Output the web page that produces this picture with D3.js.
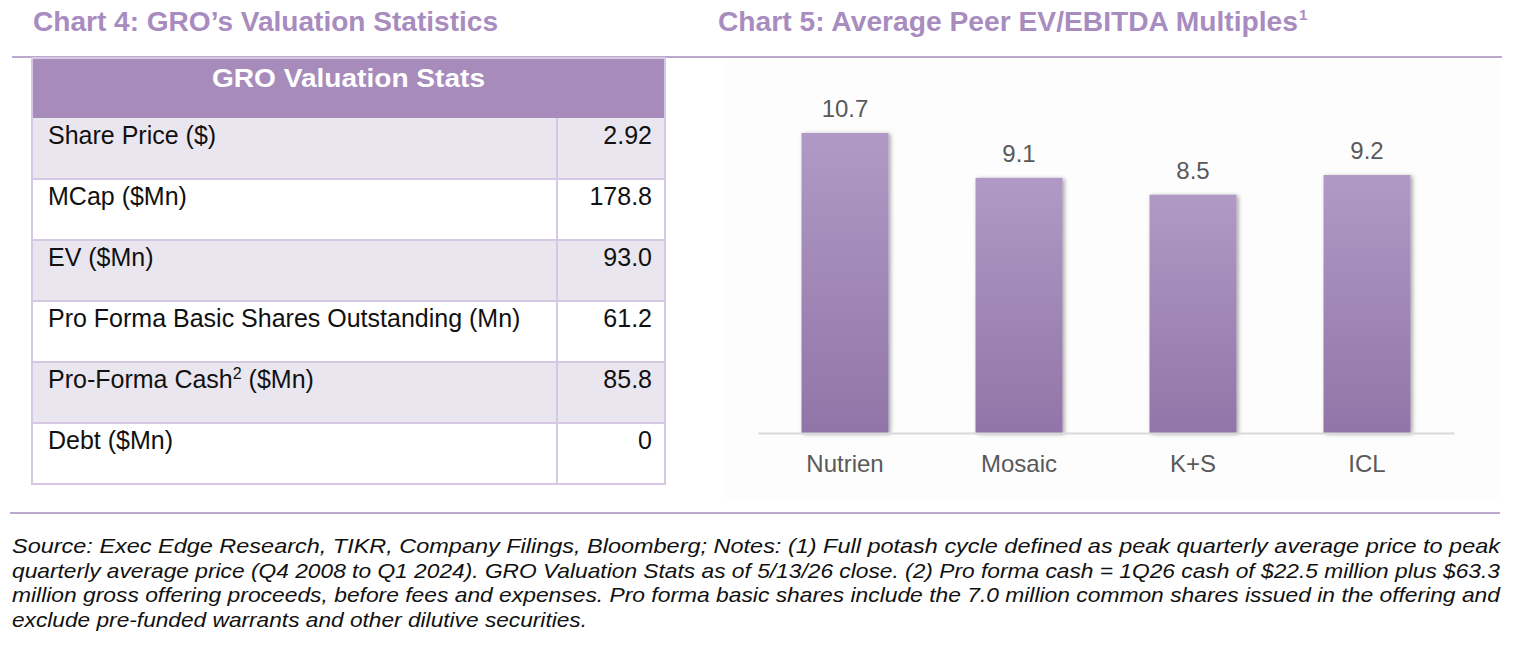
<!DOCTYPE html>
<html>
<head>
<meta charset="utf-8">
<script src="https://cdn.jsdelivr.net/npm/d3@7"></script>
<style>
  html, body { margin: 0; padding: 0; background: #fff; }
  svg { display: block; font-family: "Liberation Sans", Arial, Helvetica, sans-serif; }
</style>
</head>
<body>
<svg id="page" width="1536" height="650"></svg>
<script>
// ---- data ----
const statLabels = ['Share Price ($)', 'MCap ($Mn)', 'EV ($Mn)',
  'Pro Forma Basic Shares Outstanding (Mn)', 'Pro-Forma Cash^2 ($Mn)', 'Debt ($Mn)'];
const statValues = ['2.92', '178.8', '93.0', '61.2', '85.8', '0'];
const peers = ['Nutrien', 'Mosaic', 'K+S', 'ICL'];
const evEbitda = [10.7, 9.1, 8.5, 9.2];
const footLines = [
  'Source: Exec Edge Research, TIKR, Company Filings, Bloomberg; Notes: (1) Full potash cycle defined as peak quarterly average price to peak',
  'quarterly average price (Q4 2008 to Q1 2024). GRO Valuation Stats as of 5/13/26 close. (2) Pro forma cash = 1Q26 cash of $22.5 million plus $63.3',
  'million gross offering proceeds, before fees and expenses. Pro forma basic shares include the 7.0 million common shares issued in the offering and',
  'exclude pre-funded warrants and other dilutive securities.'
];

const purple = '#a98cbf';
const svg = d3.select('#page');

// ---- defs: bar gradient + shadow ----
const defs = svg.append('defs');
const grad = defs.append('linearGradient')
  .attr('id', 'barGrad').attr('x1', 0).attr('y1', 0).attr('x2', 0).attr('y2', 1);
grad.append('stop').attr('offset', '0%').attr('stop-color', '#b09ac5');
grad.append('stop').attr('offset', '100%').attr('stop-color', '#9175a8');
const shadow = defs.append('filter').attr('id', 'barShadow')
  .attr('x', '-20%').attr('y', '-10%').attr('width', '150%').attr('height', '130%');
shadow.append('feDropShadow')
  .attr('dx', 2).attr('dy', 1).attr('stdDeviation', 2)
  .attr('flood-color', '#000').attr('flood-opacity', 0.35);

// ---- titles + rules ----
svg.append('text')
  .attr('x', 33).attr('y', 31)
  .attr('fill', purple).attr('font-weight', 'bold').attr('font-size', 27)
  .attr('textLength', 465).attr('lengthAdjust', 'spacingAndGlyphs')
  .text('Chart 4: GRO\u2019s Valuation Statistics');

svg.append('text')
  .attr('x', 718).attr('y', 31)
  .attr('fill', purple).attr('font-weight', 'bold').attr('font-size', 27)
  .attr('textLength', 580).attr('lengthAdjust', 'spacingAndGlyphs')
  .text('Chart 5: Average Peer EV/EBITDA Multiples');
svg.append('text')
  .attr('x', 1299).attr('y', 20)
  .attr('fill', purple).attr('font-weight', 'bold').attr('font-size', 15)
  .text('1');

svg.append('line')
  .attr('x1', 12).attr('x2', 1502).attr('y1', 57).attr('y2', 57)
  .attr('stroke', '#bca8cf').attr('stroke-width', 2);

// ---- table ----
const tLeft = 32, tRight = 665, tDiv = 557;
const tHeadTop = 58, tHeadBottom = 118, tBottom = 484;
const rowY = d3.scaleBand().domain(d3.range(statLabels.length)).range([tHeadBottom, tBottom]);

const table = svg.append('g').attr('class', 'table');

table.append('rect')
  .attr('x', tLeft).attr('y', tHeadTop)
  .attr('width', tRight - tLeft).attr('height', tHeadBottom - tHeadTop)
  .attr('fill', '#a78bbb');
table.append('text')
  .attr('x', (tLeft + tRight) / 2).attr('y', 87)
  .attr('text-anchor', 'middle')
  .attr('fill', '#fff').attr('font-weight', 'bold').attr('font-size', 26)
  .attr('textLength', 273).attr('lengthAdjust', 'spacingAndGlyphs')
  .text('GRO Valuation Stats');

const rows = table.selectAll('.row')
  .data(statLabels.map((l, i) => ({ label: l, value: statValues[i], i })))
  .join('g').attr('class', 'row');

rows.append('rect')
  .attr('x', tLeft).attr('y', d => rowY(d.i))
  .attr('width', tRight - tLeft).attr('height', rowY.bandwidth())
  .attr('fill', d => d.i % 2 === 0 ? '#eae6ef' : '#ffffff');

rows.each(function (d) {
  const t = d3.select(this).append('text')
    .attr('x', 48).attr('y', rowY(d.i) + 26)
    .attr('font-size', 25).attr('fill', '#111');
  const parts = d.label.split('^');
  t.append('tspan').text(parts[0]);
  if (parts.length > 1) {
    t.append('tspan').attr('font-size', 16).attr('dy', -9).text(parts[1].charAt(0));
    t.append('tspan').attr('dy', 9).text(parts[1].slice(1));
  }
});

rows.append('text')
  .attr('x', 652).attr('y', d => rowY(d.i) + 26)
  .attr('text-anchor', 'end')
  .attr('font-size', 25).attr('fill', '#111')
  .text(d => d.value);

// grid lines of the table
const gridColor = '#d5c8e2';
table.selectAll('.hline')
  .data(d3.range(1, statLabels.length))
  .join('line')
  .attr('x1', tLeft).attr('x2', tRight)
  .attr('y1', d => rowY(d)).attr('y2', d => rowY(d))
  .attr('stroke', gridColor).attr('stroke-width', 2);
table.append('line')
  .attr('x1', tDiv).attr('x2', tDiv).attr('y1', tHeadBottom).attr('y2', tBottom)
  .attr('stroke', gridColor).attr('stroke-width', 2);
table.append('rect')
  .attr('x', tLeft).attr('y', tHeadTop)
  .attr('width', tRight - tLeft).attr('height', tBottom - tHeadTop)
  .attr('fill', 'none').attr('stroke', gridColor).attr('stroke-width', 2);

// ---- bar chart ----
svg.append('rect')
  .attr('x', 725).attr('y', 60).attr('width', 775).attr('height', 440)
  .attr('fill', '#fdfdfd');

const x = d3.scaleBand().domain(peers).range([758, 1454])
  .paddingInner(0.5).paddingOuter(0.25);
const y = d3.scaleLinear().domain([0, 12]).range([433, 433 - 12 * 28.04]);

const chart = svg.append('g').attr('class', 'bars');

chart.selectAll('.bar')
  .data(peers.map((p, i) => ({ name: p, value: evEbitda[i] })))
  .join('rect')
  .attr('class', 'bar')
  .attr('x', d => x(d.name))
  .attr('y', d => y(d.value))
  .attr('width', x.bandwidth())
  .attr('height', d => y(0) - y(d.value))
  .attr('fill', 'url(#barGrad)')
  .attr('filter', 'url(#barShadow)');

const xAxis = chart.append('g')
  .attr('transform', `translate(0,${y(0)})`)
  .call(d3.axisBottom(x).tickSize(0).tickPadding(22));
xAxis.select('.domain').attr('stroke', '#d9d9d9').attr('stroke-width', 2);
xAxis.selectAll('text')
  .attr('font-size', 24).attr('fill', '#595959')
  .attr('font-family', '"Liberation Sans", Arial, sans-serif');

chart.selectAll('.val')
  .data(peers.map((p, i) => ({ name: p, value: evEbitda[i] })))
  .join('text')
  .attr('class', 'val')
  .attr('x', d => x(d.name) + x.bandwidth() / 2)
  .attr('y', d => y(d.value) - 16)
  .attr('text-anchor', 'middle')
  .attr('font-size', 24).attr('fill', '#595959')
  .text(d => d.value.toFixed(1));

// ---- footnote ----
svg.append('line')
  .attr('x1', 10).attr('x2', 1500).attr('y1', 513).attr('y2', 513)
  .attr('stroke', '#bca8cf').attr('stroke-width', 2);

const footWidths = [1488, 1488, 1488, 575];
svg.selectAll('.foot')
  .data(footLines)
  .join('text')
  .attr('class', 'foot')
  .attr('x', 12)
  .attr('y', (d, i) => 553 + i * 24.5)
  .attr('font-size', 21).attr('font-style', 'italic').attr('fill', '#111')
  .attr('textLength', (d, i) => footWidths[i])
  .attr('lengthAdjust', 'spacingAndGlyphs')
  .text(d => d);
</script>
</body>
</html>
